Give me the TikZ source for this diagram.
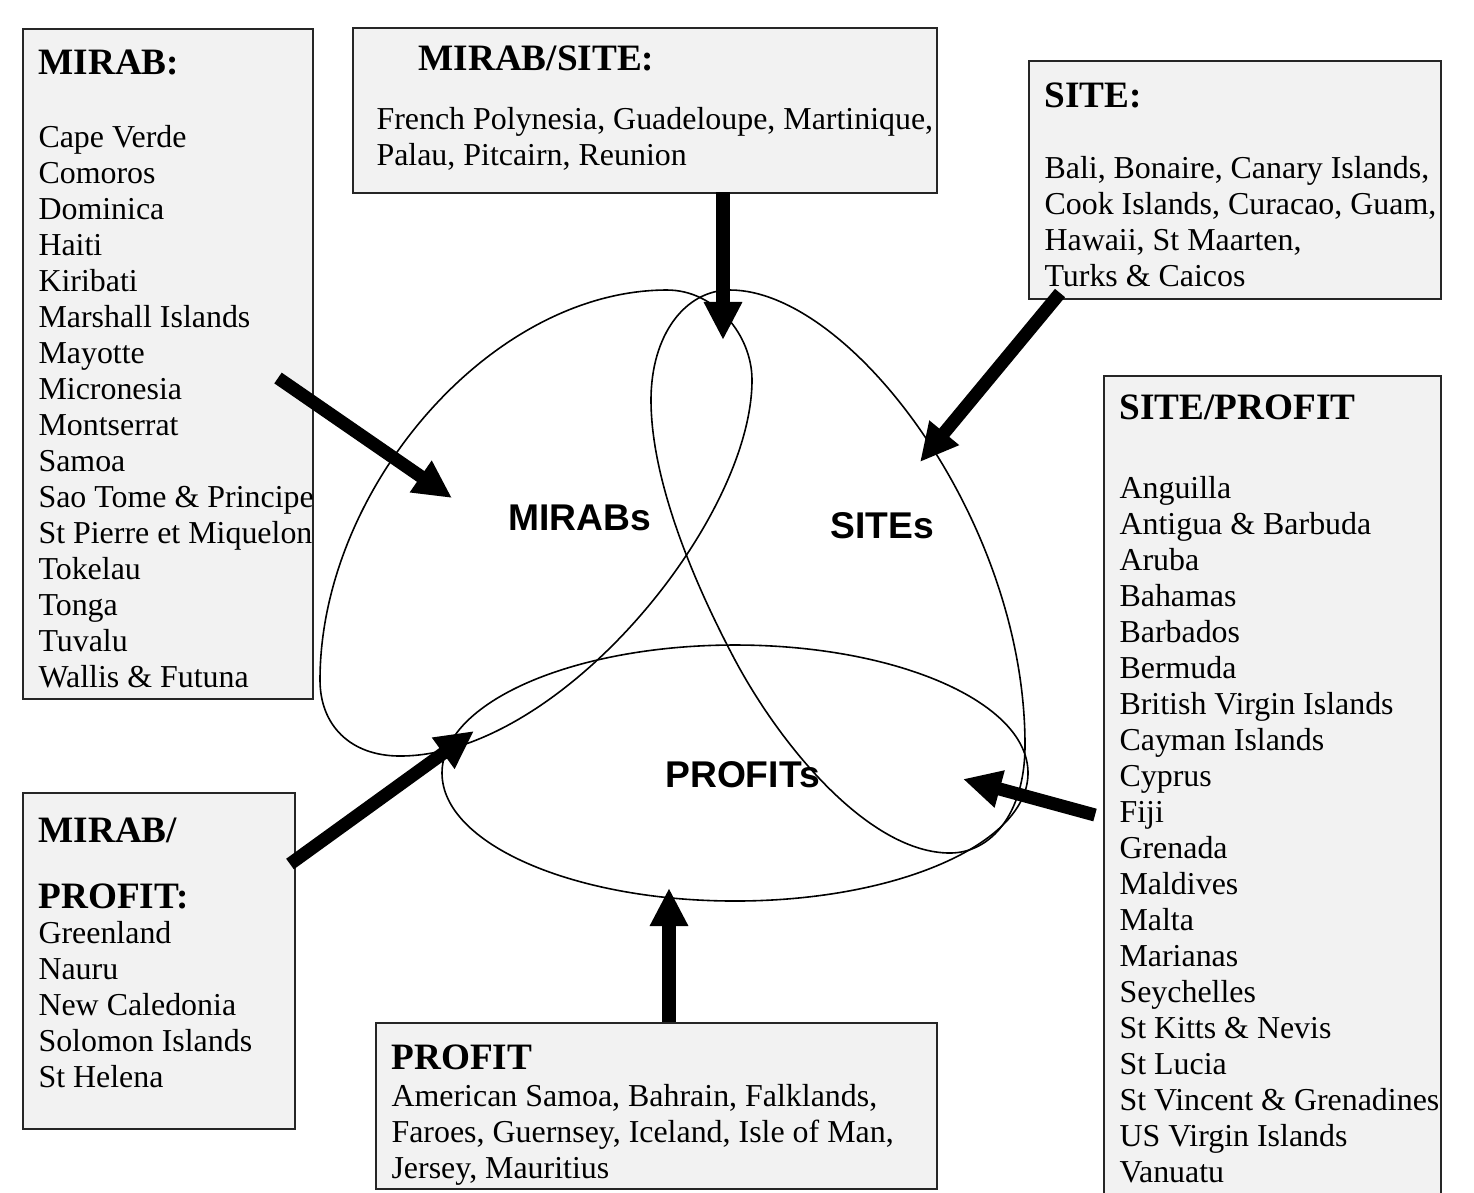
\documentclass[tikz,border=0pt]{standalone}
\usepackage{fontspec}
\setmainfont{Liberation Serif}
\newfontfamily\labelfont{Liberation Sans}
\usetikzlibrary{arrows.meta}
\def\px{0.376pt}
\definecolor{boxfill}{HTML}{F2F2F2}
\tikzset{
  box/.style={draw=black!85, line width=0.7pt, fill=boxfill, anchor=north west, inner sep=0pt},
  head/.style={anchor=base west, inner sep=0pt, font=\bfseries\fontsize{14}{16}\selectfont},
  item/.style={anchor=base west, inner sep=0pt, font=\fontsize{12}{13.5}\selectfont},
  setlabel/.style={anchor=base, inner sep=0pt, font=\labelfont\bfseries\fontsize{14}{16}\selectfont},
  setloop/.style={line width=0.6pt},
  bigarrow/.style={line width=4.9pt, -{Triangle[width=13.5pt,length=14.3pt]}}
}

\begin{document}
\begin{tikzpicture}[x=\px, y=-\px]
    \useasboundingbox (0,0) rectangle (1474,1192);

    % Boxes
    \node[box, minimum width=290*\px, minimum height=670*\px] (mirab) at (22,28) {};
    \node[box, minimum width=584*\px, minimum height=165*\px] (mirabsite) at (352,27) {};
    \node[box, minimum width=412*\px, minimum height=238*\px] (site) at (1028,60) {};
    \node[box, minimum width=337*\px, minimum height=830*\px] (siteprofit) at (1103,375) {};
    \node[box, minimum width=272*\px, minimum height=336*\px] (mirabprofit) at (22,792) {};
    \node[box, minimum width=561*\px, minimum height=166*\px] (profit) at (375,1022) {};

    % MIRAB
    \node[head] (mirab-head) at (38,74) {MIRAB:};
    \foreach \name [count=\i from 0] in {Cape Verde, Comoros, Dominica, Haiti, Kiribati,
        Marshall Islands, Mayotte, Micronesia, Montserrat, Samoa, Sao Tome \& Principe,
        St Pierre et Miquelon, Tokelau, Tonga, Tuvalu, Wallis \& Futuna}
        \node[item] (mirab-\i) at (38,{147+36*\i}) {\name};

    % MIRAB/SITE
    \node[head] (mirabsite-head) at (418,70) {MIRAB/SITE:};
    \node[item] (mirabsite-0) at (376,129) {French Polynesia, Guadeloupe, Martinique,};
    \node[item] (mirabsite-1) at (376,165) {Palau, Pitcairn, Reunion};

    % SITE
    \node[head] (site-head) at (1044,107) {SITE:};
    \foreach \name [count=\i from 0] in {{Bali, Bonaire, Canary Islands,},
        {Cook Islands, Curacao, Guam,}, {Hawaii, St Maarten,}, {Turks \& Caicos}}
        \node[item] (site-\i) at (1044,{178+36*\i}) {\name};

    % SITE/PROFIT
    \node[head] (siteprofit-head) at (1119,419) {SITE/PROFIT};
    \foreach \name [count=\i from 0] in {Anguilla, Antigua \& Barbuda, Aruba, Bahamas,
        Barbados, Bermuda, British Virgin Islands, Cayman Islands, Cyprus, Fiji, Grenada,
        Maldives, Malta, Marianas, Seychelles, St Kitts \& Nevis, St Lucia,
        St Vincent \& Grenadines, US Virgin Islands, Vanuatu}
        \node[item] (siteprofit-\i) at (1119,{498+36*\i}) {\name};

    % MIRAB/PROFIT
    \node[head] (mirabprofit-head) at (38,842) {MIRAB/};
    \node[head] (mirabprofit-head2) at (38,908) {PROFIT:};
    \foreach \name [count=\i from 0] in {Greenland, Nauru, New Caledonia, Solomon Islands, St Helena}
        \node[item] (mirabprofit-\i) at (38,{943+36*\i}) {\name};

    % PROFIT
    \node[head] (profit-head) at (391,1069) {PROFIT};
    \foreach \name [count=\i from 0] in {{American Samoa, Bahrain, Falklands,},
        {Faroes, Guernsey, Iceland, Isle of Man,}, {Jersey, Mauritius}}
        \node[item] (profit-\i) at (391,{1106+36*\i}) {\name};

    % Loops
    \draw[setloop] (667,290) .. controls (715,290) and (752,335) .. (752,380)
        .. controls (752,520) and (560,756) .. (400,756)
        .. controls (350,756) and (320,725) .. (320,680)
        .. controls (320,490) and (490,290) .. cycle;
    \draw[setloop] (730,290) .. controls (850,290) and (1025,520) .. (1025,745)
        .. controls (1025,815) and (990,853) .. (950,853)
        .. controls (870,853) and (782,748) .. (735,660)
        .. controls (693,581) and (651,480) .. (651,400)
        .. controls (651,335) and (685,290) .. cycle;
    \draw[setloop] (735,773) ellipse [x radius=293, y radius=128];

    % Set labels
    \node[setlabel] (mirabs) at (579.5,530) {MIRABs};
    \node[setlabel] (sites) at (882.5,538) {SITEs};
    \node[setlabel] (profits) at (742.5,787) {PROFITs};

    % Arrows
    \coordinate (mirab-tail) at (278,378);        \coordinate (mirab-tip) at (452,498);
    \coordinate (mirabsite-tail) at (723,192);    \coordinate (mirabsite-tip) at (723,340);
    \coordinate (site-tail) at (1060,293);        \coordinate (site-tip) at (920,462);
    \coordinate (siteprofit-tail) at (1095,815);  \coordinate (siteprofit-tip) at (963,779);
    \coordinate (mirabprofit-tail) at (290,864);  \coordinate (mirabprofit-tip) at (474,731);
    \coordinate (profit-tail) at (669,1022);      \coordinate (profit-tip) at (669,888);
    \foreach \a in {mirab, mirabsite, site, siteprofit, mirabprofit, profit}
        \draw[bigarrow] (\a-tail) -- (\a-tip);
\end{tikzpicture}
\end{document}
